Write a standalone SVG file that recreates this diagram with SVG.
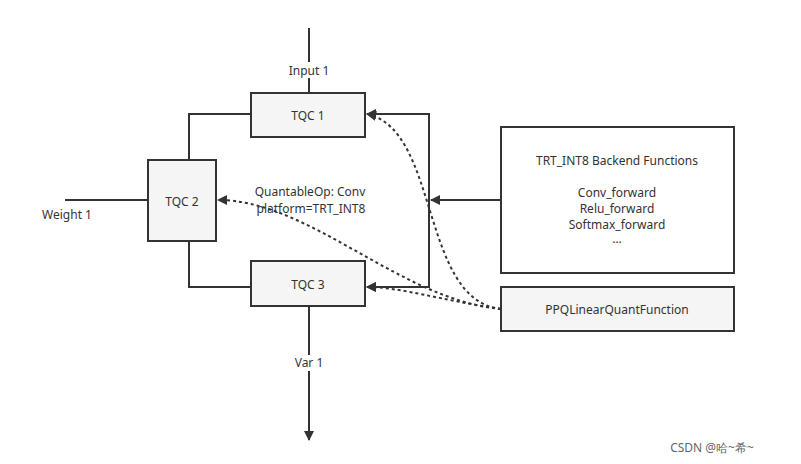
<svg xmlns="http://www.w3.org/2000/svg" width="801" height="464" viewBox="0 0 801 464">
<style>
.b{stroke:#333;stroke-width:2;fill:#f5f5f5}
.w{fill:#fff}
.l{stroke:#333;stroke-width:2;fill:none}
.d{stroke:#333;stroke-width:2;fill:none;stroke-dasharray:3 3}
text{font-family:"Microsoft YaHei","Noto Sans","Liberation Sans",sans-serif;font-size:12px;fill:#333;text-anchor:middle}
</style>
<defs><marker id="a" markerWidth="10" markerHeight="10" refX="9" refY="5" orient="auto" markerUnits="userSpaceOnUse"><path d="M0,0 L10,5 L0,10 z" fill="#333"/></marker></defs>
<rect width="801" height="464" fill="#fff"/>
<g id="connectors">
<path class="l" d="M309,28 V93"/>
<path class="l" d="M309,306 V440" marker-end="url(#a)"/>
<path class="l" d="M65,200 H148"/>
<path class="l" d="M251,114 H189 V160"/>
<path class="l" d="M189,241 V287 H251"/>
<path class="l" d="M429,200 V114 H367" marker-end="url(#a)"/>
<path class="l" d="M429,200 V287 H367" marker-end="url(#a)"/>
<path class="l" d="M501,200 H431" marker-end="url(#a)"/>
<path class="d" d="M501,309 C420,300 440,130 367,114" marker-end="url(#a)"/>
<path class="d" d="M501,309 C400,300 310,200 218,200" marker-end="url(#a)"/>
<path class="d" d="M501,309 C440,300 400,287 367,287" marker-end="url(#a)"/>
<rect x="280" y="62" width="58" height="16" fill="#fff"/>
<text x="309" y="75">Input 1</text>
<rect x="288" y="355" width="42" height="16" fill="#fff"/>
<text x="309" y="367">Var 1</text>
<text x="67" y="219">Weight 1</text>
<text x="310" y="196">QuantableOp: Conv</text>
<text x="311" y="213">platform=TRT_INT8</text>
</g>
<g id="tqc1"><rect class="b" x="251" y="93" width="114" height="44"/><text x="308" y="120">TQC 1</text></g>
<g id="tqc2"><rect class="b" x="148" y="160" width="68" height="81"/><text x="182" y="206">TQC 2</text></g>
<g id="tqc3"><rect class="b" x="251" y="261" width="114" height="45"/><text x="308" y="289">TQC 3</text></g>
<g id="backend"><rect class="l w" x="501" y="127" width="233" height="146"/>
<text x="617" y="165">TRT_INT8 Backend Functions</text>
<text x="617" y="197">Conv_forward</text>
<text x="617" y="213">Relu_forward</text>
<text x="617" y="229">Softmax_forward</text>
<text x="617" y="243">...</text></g>
<g id="ppq"><rect class="b" x="501" y="287" width="233" height="44"/><text x="617" y="314">PPQLinearQuantFunction</text></g>
<text x="712" y="452" style="font-size:12px;fill:#666">CSDN @哈~希~</text>
</svg>
